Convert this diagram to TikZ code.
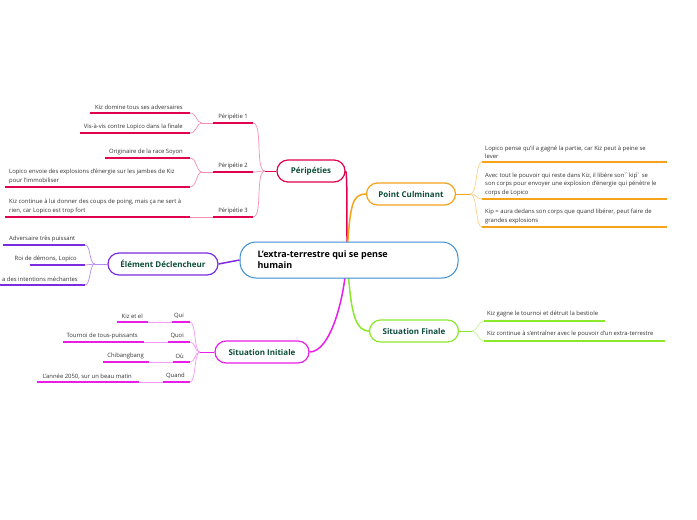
\documentclass[tikz,border=0pt]{standalone}
\usepackage{fontspec}
\setmainfont{Open Sans}
\definecolor{cpe}{HTML}{E0004D}
\definecolor{cpeL}{HTML}{F48FB1}
\definecolor{cel}{HTML}{7B2BE0}
\definecolor{celL}{HTML}{B58CF0}
\definecolor{csi}{HTML}{E81EE8}
\definecolor{csiL}{HTML}{F49AF4}
\definecolor{cpc}{HTML}{F7A21B}
\definecolor{cpcL}{HTML}{FBD08A}
\definecolor{csf}{HTML}{8BE82A}
\definecolor{csfL}{HTML}{C5F39A}
\definecolor{ccen}{HTML}{3A8CCF}
\definecolor{ctxt}{HTML}{0D4D3A}
\begin{document}
\begin{tikzpicture}[x=1pt,y=-1pt,
  topic/.style={draw,line width=1.2pt,rounded corners=11pt,fill=white,font=\fontsize{8}{9}\selectfont\bfseries,text=ctxt,minimum height=22pt,inner xsep=8pt},
  leaf/.style={font=\fontsize{5.9}{8.5}\selectfont,text=black!80,inner sep=1pt},
  ul/.style={line width=1.2pt},
  br/.style={line width=0.7pt}]
\useasboundingbox (0,0) rectangle (697,520);
% main topics
\node[topic,draw=cpe,minimum width=68pt] (pe) at (311,171) {Péripéties};
\node[topic,draw=cel,minimum width=110pt] (el) at (163,264) {Élément Déclencheur};
\node[topic,draw=csi,minimum width=94pt] (si) at (262,352) {Situation Initiale};
\node[topic,draw=cpc,minimum width=89pt] (pc) at (411,194) {Point Culminant};
\node[topic,draw=csf,minimum width=89pt] (sf) at (414,331) {Situation Finale};
% central connectors
\coordinate (c0) at (347,255);
\draw[cpe,line width=1.5pt] (c0) .. controls (347,200) and (347,171) .. (pe.east);
\draw[cpc,line width=1.5pt] (c0) .. controls (350,205) and (352,194) .. (pc.west);
\draw[csi,line width=1.5pt] (c0) .. controls (345,300) and (330,352) .. (si.east);
\draw[csf,line width=1.5pt] (c0) .. controls (350,300) and (352,331) .. (sf.west);
% central
\node[draw=ccen,line width=1pt,rounded corners=16pt,minimum width=218pt,minimum height=36pt,fill=white] (c) at (349,260) {};
\node[anchor=west,align=left,font=\fontsize{9}{11}\selectfont\bfseries] (ct) at (254,260) {L'extra-terrestre qui se pense\\humain};
\draw[cel,line width=1.5pt] (el.east) -- (c.west);
% ---------- Péripéties
\coordinate (pj) at (265,171);
\draw[cpe,br] (pe.west) -- (pj);
\node[leaf,anchor=south] (p1) at (233,121) {Péripétie 1};
\node[leaf,anchor=south] (p2) at (233,170) {Péripétie 2};
\node[leaf,anchor=south] (p3) at (233,215) {Péripétie 3};
\coordinate (p1e) at (253,123); \coordinate (p1w) at (213,123);
\coordinate (p2e) at (253,172); \coordinate (p2w) at (213,172);
\coordinate (p3e) at (253,217); \coordinate (p3w) at (213,217);
\draw[cpe,ul] (p1w) -- (p1e); \draw[cpe,ul] (p2w) -- (p2e); \draw[cpe,ul] (p3w) -- (p3e);
\draw[cpeL,br] (pj) .. controls (255,171) and (263,123) .. (p1e);
\draw[cpeL,br] (pj) .. controls (258,171) and (260,172) .. (p2e);
\draw[cpeL,br] (pj) .. controls (255,171) and (263,217) .. (p3e);
\node[leaf,anchor=south east] (a1) at (184,111) {Kiz domine tous ses adversaires};
\node[leaf,anchor=south east] (a2) at (184,131) {Vis-à-vis contre Lopico dans la finale};
\node[leaf,anchor=south east] (a3) at (184,156) {Originaire de la race Soyon};
\node[leaf,anchor=south west,align=left] (a4) at (8,185) {Lopico envoie des explosions d'énergie sur les jambes de Kiz\\pour l'immobiliser};
\node[leaf,anchor=south west,align=left] (a5) at (8,215) {Kiz continue à lui donner des coups de poing, mais ça ne sert à\\rien, car Lopico est trop fort};
\draw[cpe,ul] (90,113) -- (190,113);
\draw[cpe,ul] (80,133) -- (190,133);
\draw[cpe,ul] (105,158) -- (190,158);
\draw[cpe,ul] (5,187) -- (190,187);
\draw[cpe,ul] (5,217) -- (190,217);
\coordinate (p1j) at (202,123); \coordinate (p2j) at (202,172);
\draw[cpeL,br] (p1w) -- (p1j);
\draw[cpeL,br] (p1j) .. controls (196,123) and (197,113) .. (190,113);
\draw[cpeL,br] (p1j) .. controls (196,123) and (197,133) .. (190,133);
\draw[cpeL,br] (p2w) -- (p2j);
\draw[cpeL,br] (p2j) .. controls (196,172) and (197,158) .. (190,158);
\draw[cpeL,br] (p2j) .. controls (196,172) and (197,187) .. (190,187);
\draw[cpeL,br] (p3w) -- (190,217);
% ---------- Élément Déclencheur
\coordinate (ej) at (95,264);
\draw[celL,br] (el.west) -- (ej);
\node[leaf,anchor=south west] (e1) at (8,243) {Adversaire très puissant};
\node[leaf,anchor=south east] (e2) at (78,263) {Roi de démons, Lopico};
\node[leaf,anchor=south east] (e3) at (79,283) {a des intentions méchantes};
\draw[cel,ul] (3,245) -- (85,245);
\draw[cel,ul] (30,265) -- (85,265);
\draw[cel,ul] (0,285) -- (85,285);
\draw[celL,br] (ej) .. controls (89,264) and (91,245) .. (85,245);
\draw[celL,br] (ej) -- (85,265);
\draw[celL,br] (ej) .. controls (89,264) and (91,285) .. (85,285);
% ---------- Situation Initiale
\coordinate (sj) at (200,352);
\draw[csi,br] (si.west) -- (sj);
\foreach \n/\lab/\y/\lx in {q1/Qui/322/185,q2/Quoi/342/185,q3/Où/362/185,q4/Quand/382/186}{
  \node[leaf,anchor=south east] (\n) at (\lx,\y-2) {\lab};
}
\node[leaf,anchor=south east] (k1) at (144,320) {Kiz et el};
\node[leaf,anchor=south east] (k2) at (139,340) {Tournoi de tous-puissants};
\node[leaf,anchor=south east] (k3) at (145,360) {Chibangbang};
\node[leaf,anchor=south east] (k4) at (133,380) {L'année 2050, sur un beau matin};
\draw[csi,ul] (172,322) -- (190,322); \draw[csi,ul] (117,322) -- (148,322); \draw[csiL,br] (148,322) -- (172,322);
\draw[csi,ul] (168,342) -- (190,342); \draw[csi,ul] (63,342) -- (144,342); \draw[csiL,br] (144,342) -- (168,342);
\draw[csi,ul] (173,362) -- (190,362); \draw[csi,ul] (103,362) -- (149,362); \draw[csiL,br] (149,362) -- (173,362);
\draw[csi,ul] (163,382) -- (190,382); \draw[csi,ul] (37,382) -- (139,382); \draw[csiL,br] (139,382) -- (163,382);
\draw[csiL,br] (sj) .. controls (194,352) and (196,322) .. (190,322);
\draw[csiL,br] (sj) .. controls (194,352) and (196,342) .. (190,342);
\draw[csiL,br] (sj) .. controls (194,352) and (196,362) .. (190,362);
\draw[csiL,br] (sj) .. controls (194,352) and (196,382) .. (190,382);
% ---------- Point Culminant
\coordinate (cj) at (470,194);
\draw[cpc,br] (pc.east) -- (cj);
\node[leaf,anchor=south west,align=left] (u1) at (484,160) {Lopico pense qu'il a gagné la partie, car Kiz peut à peine se\\lever};
\node[leaf,anchor=south west,align=left] (u2) at (484,197) {Avec tout le pouvoir qui reste dans Kiz, il libère son \`{}\`{}kip\`{}\`{} se\\son corps pour envoyer une explosion d'énergie qui pénètre le\\corps de Lopico};
\node[leaf,anchor=south west,align=left] (u3) at (484,225) {Kip = aura dedans son corps que quand libérer, peut faire de\\grandes explosions};
\draw[cpc,ul] (482,162) -- (667,162);
\draw[cpc,ul] (482,199) -- (667,199);
\draw[cpc,ul] (482,227) -- (667,227);
\draw[cpcL,br] (cj) .. controls (478,194) and (475,162) .. (482,162);
\draw[cpcL,br] (cj) .. controls (478,194) and (475,199) .. (482,199);
\draw[cpcL,br] (cj) .. controls (478,194) and (475,227) .. (482,227);
% ---------- Situation Finale
\coordinate (fj) at (472,331);
\draw[csf,br] (sf.east) -- (fj);
\node[leaf,anchor=south west] (f1) at (486,318) {Kiz gagne le tournoi et détruit la bestiole};
\node[leaf,anchor=south west] (f2) at (486,338) {Kiz continue à s'entraîner avec le pouvoir d'un extra-terrestre};
\draw[csf,ul] (484,321) -- (605,321);
\draw[csf,ul] (484,341) -- (665,341);
\draw[csfL,br] (fj) .. controls (478,331) and (478,321) .. (484,321);
\draw[csfL,br] (fj) .. controls (478,331) and (478,341) .. (484,341);
\end{tikzpicture}
\end{document}
